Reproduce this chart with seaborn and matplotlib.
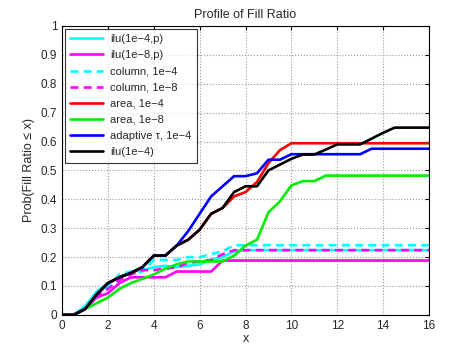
import numpy as np
import pandas as pd
import matplotlib
matplotlib.use("Agg")
import matplotlib.pyplot as plt
import seaborn as sns

# Fill ratio grid (x) and the profile values
x = [0, 0.5, 1, 1.5, 2, 2.5, 3, 3.5, 4, 4.5, 5, 5.5, 6, 6.5, 7, 7.5, 8,
     8.5, 9, 9.5, 10, 10.5, 11, 11.5, 12, 12.5, 13, 13.5, 14, 14.5, 15, 15.5, 16]

ilu_1e4_p = [0, 0, .03, .08, .11, .13, .15, .155, .165, .17, .165, .17, .175, .19, .20, .22, .224,
             .224, .224, .224, .224, .224, .224, .224, .224, .224, .224, .224, .224, .224, .224, .224, .224]
ilu_1e8_p = [0, 0, .02, .06, .075, .11, .13, .13, .13, .13, .15, .15, .15, .15, .188, .188, .188,
             .188, .188, .188, .188, .188, .188, .188, .188, .188, .188, .188, .188, .188, .188, .188, .188]
column_1e4 = [0, 0, .02, .06, .10, .14, .15, .15, .19, .19, .19, .20, .20, .21, .22, .241, .241,
              .241, .241, .241, .241, .241, .241, .241, .241, .241, .241, .241, .241, .241, .241, .241, .241]
column_1e8 = [0, 0, .02, .06, .09, .12, .14, .155, .155, .16, .165, .18, .185, .19, .21, .224, .224,
              .224, .224, .224, .224, .224, .224, .224, .224, .224, .224, .224, .224, .224, .224, .224, .224]
area_1e4 = [0, 0, .02, .07, .11, .13, .145, .165, .205, .205, .24, .26, .295, .35, .37, .41, .425,
            .46, .525, .57, .594, .594, .594, .594, .594, .594, .594, .594, .594, .594, .594, .594, .594]
area_1e8 = [0, 0, .02, .04, .06, .09, .11, .125, .14, .16, .175, .185, .185, .185, .185, .205, .24,
            .26, .355, .393, .448, .463, .463, .482, .482, .482, .482, .482, .482, .482, .482, .482, .482]
adaptive_1e4 = [0, 0, .02, .07, .11, .13, .145, .165, .205, .205, .24, .29, .35, .41, .445, .48, .48,
                .49, .537, .537, .556, .556, .556, .556, .556, .556, .556, .575, .575, .575, .575, .575, .575]
ilu_1e4 = [0, 0, .02, .07, .11, .13, .145, .165, .205, .205, .24, .26, .295, .35, .37, .425, .445,
           .445, .5, .52, .54, .555, .555, .572, .59, .59, .59, .61, .63, .648, .648, .648, .648]

labels = ["ilu(1e\u22124,p)", "ilu(1e\u22128,p)", "column, 1e\u22124", "column, 1e\u22128",
          "area, 1e\u22124", "area, 1e\u22128", "adaptive \u03c4, 1e\u22124", "ilu(1e\u22124)"]
series = [ilu_1e4_p, ilu_1e8_p, column_1e4, column_1e8, area_1e4, area_1e8, adaptive_1e4, ilu_1e4]
colors = ["#00FFFF", "#FF00FF", "#00FFFF", "#FF00FF", "#FF0000", "#00EE00", "#0000FF", "#000000"]
dashed = [False, False, True, True, False, False, False, False]

sns.set_style("white")
plt.rcParams['font.family'] = ['Liberation Sans', 'DejaVu Sans']

fig = plt.figure(figsize=(4.74, 3.55), dpi=100)
ax = fig.add_axes([0.131, 0.113, 0.774, 0.814])

for lab, vals, col, d in zip(labels, series, colors, dashed):
    df = pd.DataFrame({"x": x, "y": vals})
    sns.lineplot(data=df, x="x", y="y", ax=ax, color=col, lw=1.9, label=lab)
    if d:
        ax.lines[-1].set_dashes((3, 2))

ax.set_xlim(0, 16)
ax.set_ylim(0, 1)
ax.set_xticks(range(0, 17, 2))
ax.set_yticks(np.arange(0, 1.01, 0.1))
ax.set_yticklabels(["0", "0.1", "0.2", "0.3", "0.4", "0.5", "0.6", "0.7", "0.8", "0.9", "1"])
ax.tick_params(direction="in", labelsize=8.5, length=3, top=True, right=True, color="black")
ax.grid(True, linestyle=":", color="#999999", lw=0.8)
for s in ax.spines.values():
    s.set_color("black")
    s.set_linewidth(0.8)

ax.set_title("Profile of Fill Ratio", fontsize=9, pad=6)
ax.set_xlabel("x", fontsize=9, labelpad=1)
ax.set_ylabel("Prob(Fill Ratio \u2264 x)", fontsize=9, labelpad=4)

leg = ax.legend(loc="upper left", fontsize=8, frameon=True, fancybox=False,
                edgecolor="black", handlelength=2.9, handletextpad=0.7,
                borderaxespad=0.25, labelspacing=0.55, borderpad=0.5)
leg.get_frame().set_linewidth(0.8)

fig.savefig("out.png", dpi=100)
